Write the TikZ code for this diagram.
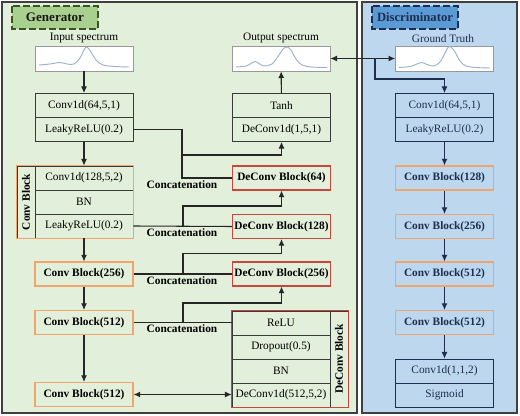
\documentclass[tikz,border=0pt]{standalone}
\usepackage{fontspec}
\setmainfont{Liberation Serif}
\usetikzlibrary{arrows.meta}
\definecolor{gfill}{HTML}{E2EFDA}
\definecolor{bfill}{HTML}{BDD7EE}
\definecolor{gtag}{HTML}{A9D08E}
\definecolor{gtagb}{HTML}{375623}
\definecolor{btag}{HTML}{5B9BD5}
\definecolor{navy}{HTML}{1F2D4F}
\definecolor{orng}{HTML}{EFA56B}
\definecolor{dred}{HTML}{C8463C}
\definecolor{cellb}{HTML}{3A3A3A}
\definecolor{spec}{HTML}{9DB1CF}
\begin{document}
\begin{tikzpicture}[x=0.75pt,y=-0.75pt,
  every node/.style={font=\fontsize{8.5}{10}\selectfont, inner sep=0pt},
  cell/.style={draw=cellb, line width=0.6pt, minimum width=73.5pt, minimum height=18pt},
  gcell/.style={cell, fill=gfill},
  bcell/.style={cell, fill=bfill, draw=navy, text=navy},
  cblk/.style={cell, fill=gfill, draw=orng, line width=0.8pt, font=\fontsize{8.5}{10}\selectfont\bfseries},
  dblk/.style={cell, fill=gfill, draw=dred, line width=0.8pt, font=\fontsize{8.5}{10}\selectfont\bfseries},
  bblk/.style={cell, fill=bfill, draw=orng, line width=0.8pt, text=navy, font=\fontsize{8.5}{10}\selectfont\bfseries},
  spbox/.style={draw=gray!80, fill=white, line width=0.5pt, minimum width=73.5pt, minimum height=18.75pt},
  sline/.style={spec, line width=0.7pt},
  ln/.style={draw=black!85, line width=0.8pt},
  arr/.style={ln, -{Latex[length=5pt,width=4.5pt]}},
  barr/.style={ln, <->, >={Latex[length=5pt,width=4.5pt]}},
  darr/.style={draw=navy, line width=0.8pt, -{Latex[length=5pt,width=4.5pt]}},
  ctext/.style={font=\fontsize{8.5}{10}\selectfont\bfseries},
  panel/.style={draw=black!75, line width=1.4pt}
]
\useasboundingbox (0,0) rectangle (520,416);
\fill[white] (0,0) rectangle (520,416);
% panels
\draw[panel, fill=gfill] (2,2) rectangle (357,413);
\draw[panel, fill=bfill] (362,2) rectangle (517,413);
\draw[draw=gtagb, fill=gtag, dashed, line width=1.2pt, dash pattern=on 5pt off 2.5pt] (12,6) rectangle (98,29);
\node[font=\fontsize{9.8}{11}\selectfont\bfseries, text=black!90] (gtitle) at (55,17.5) {Generator};
\draw[draw=navy, fill=btag, dashed, line width=1.2pt, dash pattern=on 5pt off 2.5pt] (372,6) rectangle (458,29);
\node[font=\fontsize{9.5}{11}\selectfont\bfseries, text=navy] (dtitle) at (415,17.5) {Discriminator};

% spectra
\node (inlab) at (84,38) {Input spectrum};
\node[spbox] (inspec) at (84,58.5) {};
\draw[sline] plot[smooth, tension=0.6] coordinates {(39,65) (50,64) (60,62.5) (67,64) (74,64) (80,58) (84,50) (87,47) (91,52) (96,60) (103,65) (115,66.5) (129,67)};
\node (outlab) at (281,38) {Output spectrum};
\node[spbox] (outspec) at (281,58.5) {};
\draw[sline] plot[smooth, tension=0.6] coordinates {(236,67) (246,66) (251,63.5) (255,61.5) (259,63.5) (264,66) (272,64) (279,55) (284,48) (287,47) (291,50) (296,59) (302,65) (312,67) (327,67.5)};
\node[text=navy] (gtlab) at (443,39) {Ground Truth};
\node[spbox] (gt) at (444.5,58.5) {};
\draw[sline] plot[smooth, tension=0.6] coordinates {(399,67.5) (410,66.5) (417,64) (422,62.5) (427,64.5) (434,66) (440,62) (445,53) (448,47.5) (451,47) (455,52) (460,61) (466,66) (476,67.5) (490,68)};

% generator encoder
\node[gcell] (c1a) at (84,105.5) {Conv1d(64,5,1)};
\node[gcell] (c1b) at (84,129.5) {LeakyReLU(0.2)};
\node[gcell] (cb1) at (84,178) {Conv1d(128,5,2)};
\node[gcell] (cb2) at (84,202) {BN};
\node[gcell] (cb3) at (84,226) {LeakyReLU(0.2)};
\node[draw=cellb, line width=0.6pt, fill=gfill, minimum width=13.5pt, minimum height=54pt] (cbl) at (26,202) {\rotatebox{90}{\bfseries Conv Block}};
\draw[orng, line width=0.9pt] (cbl.north west) rectangle (cb3.south east);
\node[cblk] (e256) at (84,274) {Conv Block(256)};
\node[cblk] (e512a) at (84,322.5) {Conv Block(512)};
\node[cblk] (e512b) at (84,394.5) {Conv Block(512)};

% generator decoder
\node[gcell] (tanh) at (281.5,105.5) {Tanh};
\node[gcell] (dc1) at (281.5,129.5) {DeConv1d(1,5,1)};
\node[dblk] (d64) at (281.5,178) {DeConv Block(64)};
\node[dblk] (d128) at (281.5,226.5) {DeConv Block(128)};
\node[dblk] (d256) at (281.5,274) {DeConv Block(256)};
\node[gcell] (dr1) at (281,323) {ReLU};
\node[gcell] (dr2) at (281,347) {Dropout(0.5)};
\node[gcell] (dr3) at (281,371) {BN};
\node[gcell] (dr4) at (281,395) {DeConv1d(512,5,2)};
\node[draw=cellb, line width=0.6pt, fill=gfill, minimum width=13.5pt, minimum height=72pt] (drl) at (339,359) {\rotatebox{90}{\bfseries DeConv Block}};
\draw[dred, line width=0.9pt] (dr1.north west) rectangle (drl.south east);

% generator connectors
\draw[arr] (inspec) -- (c1a);
\draw[arr] (c1b) -- (cb1);
\draw[arr] (cb3) -- (e256);
\draw[arr] (e256) -- (e512a);
\draw[arr] (e512a) -- (e512b);
\draw[barr] (e512b.east) -- (e512b.east -| dr4.west);
\draw[arr] (tanh) -- (outspec);

\coordinate (k1) at (182,178);
\coordinate (b1) at (182,155);
\draw[ln] (c1b.east) -| (k1) -- (d64.west);
\draw[arr] (b1) -| (dc1.south);
\node[ctext] (cc1) at (182,184.5) {Concatenation};

\coordinate (k2) at (183,226.5);
\coordinate (b2) at (183,206);
\draw[ln] (cb3.east) -- (d128.west);
\draw[arr] (k2) -- (b2) -| (d64.south);
\node[ctext] (cc2) at (182,232.5) {Concatenation};

\coordinate (k3) at (183,274);
\coordinate (b3) at (183,253.5);
\draw[ln] (e256.east) -- (d256.west);
\draw[arr] (k3) -- (b3) -| (d128.south);
\node[ctext] (cc3) at (182,280.5) {Concatenation};

\coordinate (k4) at (183,322.5);
\coordinate (b4) at (183,303);
\draw[ln] (e512a.east) -- (e512a.east -| dr1.west);
\draw[arr] (k4) -- (b4) -| (d256.south);
\node[ctext] (cc4) at (182,329) {Concatenation};

% discriminator
\node[bcell] (da) at (444.5,105.5) {Conv1d(64,5,1)};
\node[bcell] (db) at (444.5,129.5) {LeakyReLU(0.2)};
\node[bblk] (q128) at (444.5,178) {Conv Block(128)};
\node[bblk] (q256) at (444.5,226.5) {Conv Block(256)};
\node[bblk] (q512a) at (444.5,274) {Conv Block(512)};
\node[bblk] (q512b) at (444.5,322.5) {Conv Block(512)};
\node[bcell] (dz) at (444.5,371) {Conv1d(1,1,2)};
\node[bcell] (ds) at (444.5,395) {Sigmoid};

\draw[barr] (outspec.east) -- (gt.west);
\coordinate (g1) at (375,58.5);
\coordinate (g2) at (375,79);
\draw[darr] (g1) -- (g2) -| (da.north);
\draw[darr] (db) -- (q128);
\draw[darr] (q128) -- (q256);
\draw[darr] (q256) -- (q512a);
\draw[darr] (q512a) -- (q512b);
\draw[darr] (q512b) -- (dz);
\end{tikzpicture}
\end{document}
